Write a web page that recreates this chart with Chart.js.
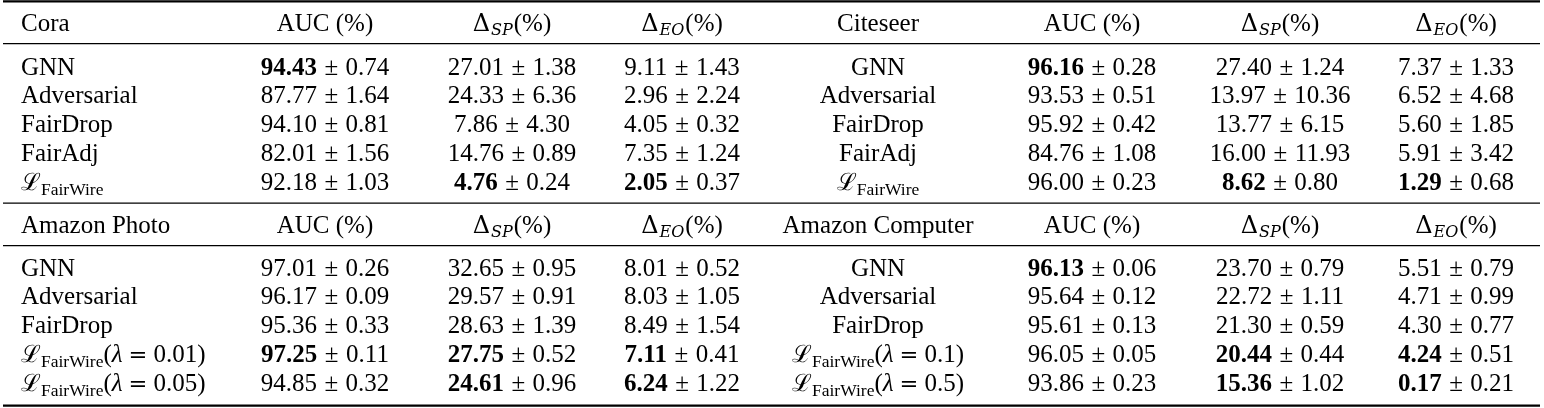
<!DOCTYPE html>
<html>
<head>
<meta charset="utf-8">
<script src="https://cdn.jsdelivr.net/npm/chart.js@4"></script>
<style>
  html, body { margin: 0; padding: 0; background: #fff; }
  #wrap { width: 1544px; height: 408px; position: relative; }
</style>
</head>
<body>
<div id="wrap"><canvas id="table-chart"></canvas></div>
<script>
const datasetNames = ["Cora", "Citeseer", "Amazon Photo", "Amazon Computer"];
const metricLabels = ["AUC (%)", "Δ_SP(%)", "Δ_EO(%)"];

const coraMethods = ["GNN", "Adversarial", "FairDrop", "FairAdj", "L_FairWire"];
const citeseerMethods = ["GNN", "Adversarial", "FairDrop", "FairAdj", "L_FairWire"];
const photoMethods = ["GNN", "Adversarial", "FairDrop", "L_FairWire(λ = 0.01)", "L_FairWire(λ = 0.05)"];
const computerMethods = ["GNN", "Adversarial", "FairDrop", "L_FairWire(λ = 0.1)", "L_FairWire(λ = 0.5)"];

const coraAucMean = [94.43, 87.77, 94.10, 82.01, 92.18];
const coraAucStd = [0.74, 1.64, 0.81, 1.56, 1.03];
const coraSpMean = [27.01, 24.33, 7.86, 14.76, 4.76];
const coraSpStd = [1.38, 6.36, 4.30, 0.89, 0.24];
const coraEoMean = [9.11, 2.96, 4.05, 7.35, 2.05];
const coraEoStd = [1.43, 2.24, 0.32, 1.24, 0.37];

const citeAucMean = [96.16, 93.53, 95.92, 84.76, 96.00];
const citeAucStd = [0.28, 0.51, 0.42, 1.08, 0.23];
const citeSpMean = [27.40, 13.97, 13.77, 16.00, 8.62];
const citeSpStd = [1.24, 10.36, 6.15, 11.93, 0.80];
const citeEoMean = [7.37, 6.52, 5.60, 5.91, 1.29];
const citeEoStd = [1.33, 4.68, 1.85, 3.42, 0.68];

const photoAucMean = [97.01, 96.17, 95.36, 97.25, 94.85];
const photoAucStd = [0.26, 0.09, 0.33, 0.11, 0.32];
const photoSpMean = [32.65, 29.57, 28.63, 27.75, 24.61];
const photoSpStd = [0.95, 0.91, 1.39, 0.52, 0.96];
const photoEoMean = [8.01, 8.03, 8.49, 7.11, 6.24];
const photoEoStd = [0.52, 1.05, 1.54, 0.41, 1.22];

const compAucMean = [96.13, 95.64, 95.61, 96.05, 93.86];
const compAucStd = [0.06, 0.12, 0.13, 0.05, 0.23];
const compSpMean = [23.70, 22.72, 21.30, 20.44, 15.36];
const compSpStd = [0.79, 1.11, 0.59, 0.44, 1.02];
const compEoMean = [5.51, 4.71, 4.30, 4.24, 0.17];
const compEoStd = [0.79, 0.99, 0.77, 0.51, 0.21];

// rows printed in bold, per metric (AUC, SP, EO)
const coraBold = [[0], [4], [4]];
const citeBold = [[0], [4], [4]];
const photoBold = [[3], [3, 4], [3, 4]];
const compBold = [[0], [3, 4], [3, 4]];

// ---- layout ----
const FONT = "'Liberation Serif', 'Times New Roman', serif";
const MATH = "'DejaVu Serif', serif";
const FS = 25;
const colX = { left: [21, 325, 512, 682], right: [878, 1092, 1280, 1456] };
const rules = [
  { at: -0.75, width: 2.2 },
  { at: 0.72, width: 1.3 },
  { at: 6.27, width: 1.3 },
  { at: 7.75, width: 1.3 },
  { at: 13.32, width: 2.2 },
];
const ruleFrom = 3;
const ruleTo = 1540;

const blocks = [
  { name: datasetNames[0], side: "left", top: 0, methods: coraMethods,
    means: [coraAucMean, coraSpMean, coraEoMean], stds: [coraAucStd, coraSpStd, coraEoStd], bold: coraBold },
  { name: datasetNames[1], side: "right", top: 0, methods: citeseerMethods,
    means: [citeAucMean, citeSpMean, citeEoMean], stds: [citeAucStd, citeSpStd, citeEoStd], bold: citeBold },
  { name: datasetNames[2], side: "left", top: 7, methods: photoMethods,
    means: [photoAucMean, photoSpMean, photoEoMean], stds: [photoAucStd, photoSpStd, photoEoStd], bold: photoBold },
  { name: datasetNames[3], side: "right", top: 7, methods: computerMethods,
    means: [compAucMean, compSpMean, compEoMean], stds: [compAucStd, compSpStd, compEoStd], bold: compBold },
];

// ---- text runs ----
function headerRuns(label) {
  if (label.startsWith("Δ_")) {
    return [
      { text: "Δ", family: MATH, size: FS * 0.96 },
      { text: label.slice(2, 4), family: MATH, style: "italic", size: FS * 0.64, dy: 4, padL: 1, padR: 1 },
      { text: label.slice(4) },
    ];
  }
  return [{ text: label }];
}

function labelRuns(name) {
  const m = name.match(/^L_FairWire(?:\(λ = ([\d.]+)\))?$/);
  if (!m) return [{ text: name }];
  const runs = [
    { text: "ℒ", family: MATH, size: FS * 0.95 },
    { text: "FairWire", size: FS * 0.7, dy: 5 },
  ];
  if (m[1]) {
    runs.push(
      { text: "(" },
      { text: "λ", style: "italic" },
      { text: "=", family: MATH, size: FS * 0.9, padL: FS * 0.24, padR: FS * 0.24 },
      { text: m[1] + ")" }
    );
  }
  return runs;
}

function valueRuns(mean, std, bold) {
  return [
    { text: mean.toFixed(2), weight: bold ? "bold" : "normal" },
    { text: "±", padL: FS * 0.3, padR: FS * 0.3 },
    { text: std.toFixed(2) },
  ];
}

// ---- datasets: one per table column of each block ----
const datasets = [];
blocks.forEach((b) => {
  const cols = colX[b.side];
  const nameAlign = b.side === "left" ? "left" : "center";
  const header = [{ x: cols[0], y: b.top, runs: [{ text: b.name }], align: nameAlign }];
  metricLabels.forEach((m, k) => {
    header.push({ x: cols[k + 1], y: b.top, runs: headerRuns(m), align: "center" });
  });
  datasets.push({ label: b.name, data: header, pointRadius: 0 });

  datasets.push({
    label: b.name + " methods",
    data: b.methods.map((m, i) => ({ x: cols[0], y: b.top + 1.5 + i, runs: labelRuns(m), align: nameAlign })),
    pointRadius: 0,
  });

  b.means.forEach((arr, k) => {
    datasets.push({
      label: b.name + " " + metricLabels[k],
      data: arr.map((v, i) => ({
        x: cols[k + 1],
        y: b.top + 1.5 + i,
        runs: valueRuns(v, b.stds[k][i], b.bold[k].includes(i)),
        align: "center",
      })),
      pointRadius: 0,
    });
  });
});

function fontOf(r) {
  return `${r.style || "normal"} ${r.weight || "normal"} ${r.size || FS}px ${r.family || FONT}`;
}

function drawRuns(ctx, runs, x, y, align) {
  let total = 0;
  const widths = runs.map((r) => {
    ctx.font = fontOf(r);
    const w = ctx.measureText(r.text).width;
    total += (r.padL || 0) + w + (r.padR || 0);
    return w;
  });
  let cx = align === "left" ? x : x - total / 2;
  const base = y + FS * 0.34;
  runs.forEach((r, k) => {
    cx += r.padL || 0;
    ctx.font = fontOf(r);
    ctx.fillText(r.text, cx, base + (r.dy || 0));
    cx += widths[k] + (r.padR || 0);
  });
}

const tablePlugin = {
  id: "tableCells",
  afterDatasetsDraw(chart) {
    const { ctx, scales } = chart;
    ctx.save();
    ctx.strokeStyle = "#000";
    ctx.fillStyle = "#000";
    ctx.textAlign = "left";
    ctx.textBaseline = "alphabetic";
    rules.forEach((r) => {
      const py = scales.y.getPixelForValue(r.at);
      ctx.lineWidth = r.width;
      ctx.beginPath();
      ctx.moveTo(scales.x.getPixelForValue(ruleFrom), py);
      ctx.lineTo(scales.x.getPixelForValue(ruleTo), py);
      ctx.stroke();
    });
    chart.data.datasets.forEach((ds, i) => {
      const meta = chart.getDatasetMeta(i);
      meta.data.forEach((pt, j) => drawRuns(ctx, ds.data[j].runs, pt.x, pt.y, ds.data[j].align));
    });
    ctx.restore();
  },
};

const ctx = document.getElementById("table-chart").getContext("2d");
new Chart(ctx, {
  type: "scatter",
  data: { datasets },
  options: {
    responsive: true,
    maintainAspectRatio: false,
    animation: false,
    events: [],
    layout: { padding: 0 },
    plugins: { legend: { display: false }, tooltip: { enabled: false } },
    scales: {
      x: { type: "linear", min: 0, max: 1544, display: false },
      y: { type: "linear", min: -0.8, max: 13.4, reverse: true, display: false },
    },
  },
  plugins: [tablePlugin],
});
</script>
</body>
</html>
